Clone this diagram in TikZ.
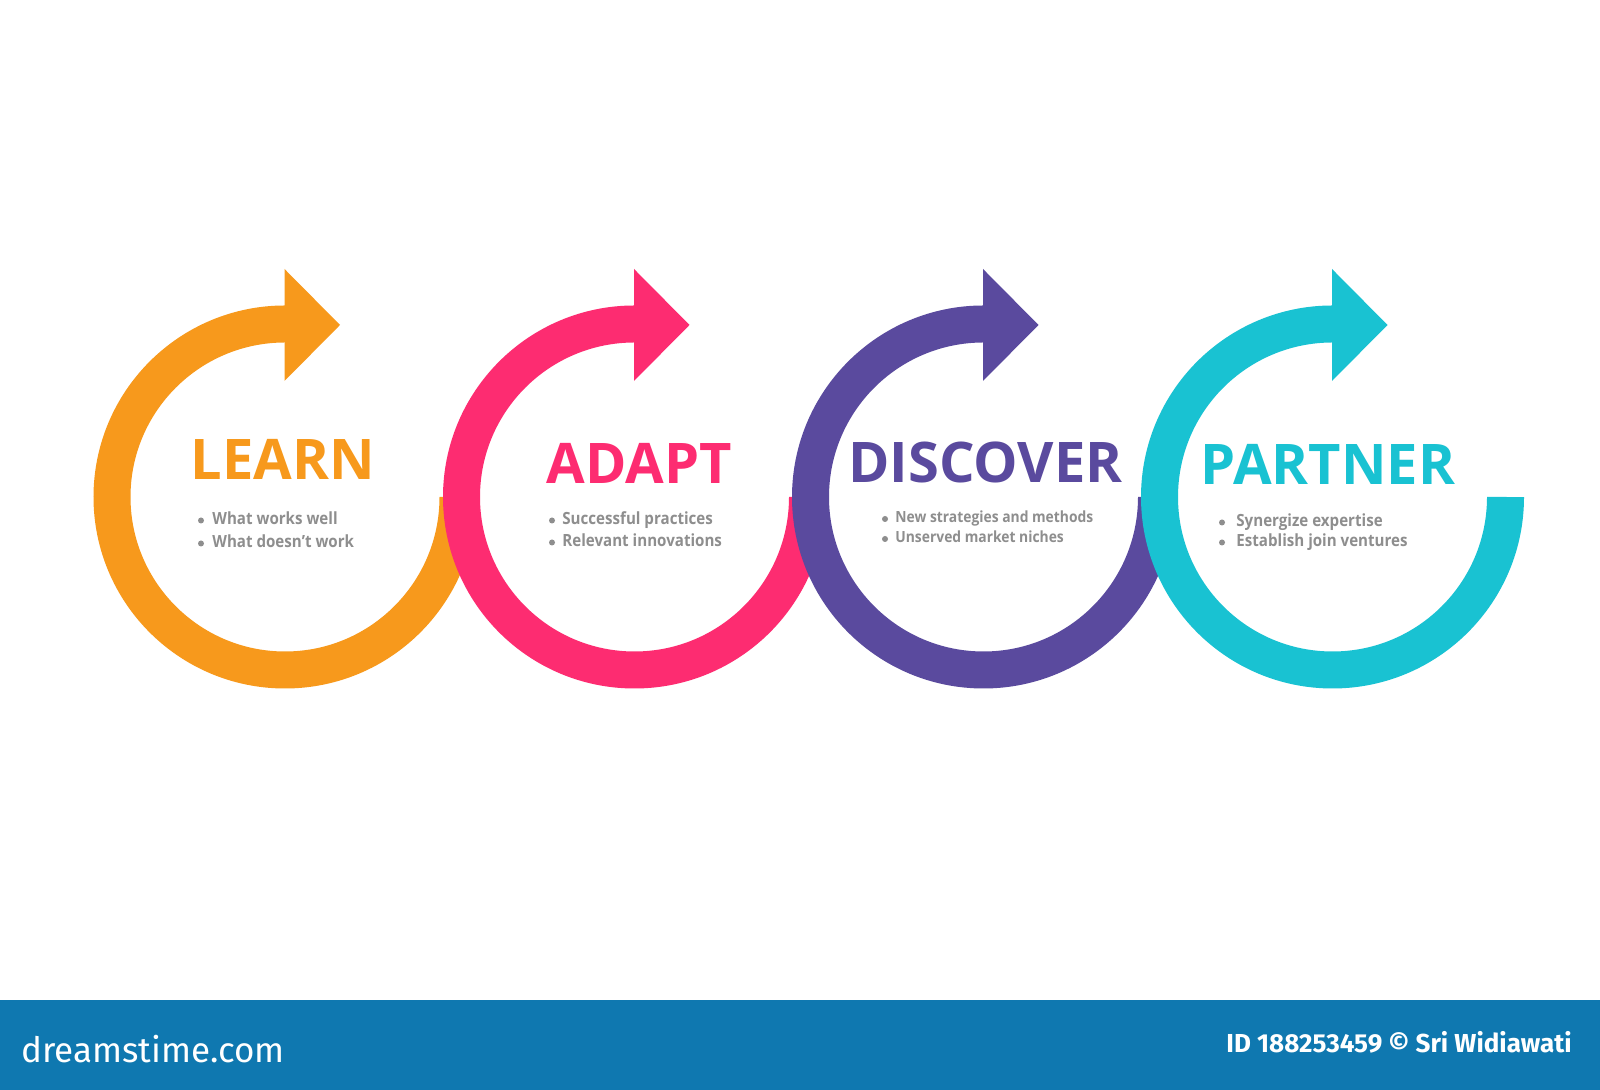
\documentclass[tikz,border=0pt]{standalone}
\usepackage{fontspec}
\setmainfont{Open Sans}
\newfontfamily\notefont[FakeStretch=0.9]{Open Sans}
\newfontfamily\barfont{Fira Sans}
\usetikzlibrary{positioning}

\definecolor{learncol}{HTML}{F7991C}
\definecolor{adaptcol}{HTML}{FD2C71}
\definecolor{discovercol}{HTML}{5A4A9E}
\definecolor{partnercol}{HTML}{19C2D2}
\definecolor{notegray}{HTML}{8E8E8E}
\definecolor{barblue}{HTML}{0F78B0}

\tikzset{
	ring/.style={line width=18.5pt},
	title/.style={font=\fontsize{28}{30}\selectfont\bfseries, anchor=base, inner sep=0pt},
	note/.style={font=\notefont\fontsize{8.4}{10}\selectfont\bfseries, text=notegray, anchor=base west, inner sep=0pt},
	small note/.style={note, font=\notefont\fontsize{7.7}{9}\selectfont\bfseries},
	dot/.style={circle, fill=notegray, inner sep=0pt, minimum size=3pt},
}

\begin{document}
\begin{tikzpicture}[x=0.5pt, y=0.5pt]
		\useasboundingbox (0,0) rectangle (1600,1090);
		\fill[white] (0,0) rectangle (1600,1090);
		% rings, each one laid over the one before
		\foreach \cx/\col in {285/learncol, 634.5/adaptcol, 983.5/discovercol, 1332.5/partnercol} {
			\draw[ring, \col] (\cx+173,593) arc[start angle=0, end angle=-270, radius=173];
			\fill[\col] (\cx-0.5,821) -- (\cx+55,765) -- (\cx-0.5,709) -- cycle;
		}
		% titles
		\node[title, text=learncol] (learn) at (282.5,610) {LEARN};
		\node[title, text=adaptcol] (adapt) at (639.5,606) {ADAPT};
		\node[title, text=discovercol] (discover) at (985.5,607) {DISCOVER};
		\node[title, text=partnercol] (partner) at (1328,605) {PARTNER};
		% bullet lines
		\node[note] (learn1) at (212,565) {What works well};
		\node[note] (learn2) at (212,542) {What doesn’t work};
		\node[dot] (learnd1) at (201,569.5) {};
		\node[dot] (learnd2) at (201,546.5) {};
		\node[note] (adapt1) at (562,565) {Successful practices};
		\node[note] (adapt2) at (562,543) {Relevant innovations};
		\node[dot] (adaptd1) at (552,569.5) {};
		\node[dot] (adaptd2) at (552,547.5) {};
		\node[small note] (discover1) at (895,567) {New strategies and methods};
		\node[small note] (discover2) at (895,547) {Unserved market niches};
		\node[dot] (discoverd1) at (885,571) {};
		\node[dot] (discoverd2) at (885,551) {};
		\node[note] (partner1) at (1236,563) {Synergize expertise};
		\node[note] (partner2) at (1236,543) {Establish join ventures};
		\node[dot] (partnerd1) at (1222,567.5) {};
		\node[dot] (partnerd2) at (1222,547.5) {};
		% bottom bar
		\fill[barblue] (0,0) rectangle (1600,90);
		\node[font=\barfont\fontsize{17.5}{20}\selectfont, text=white, anchor=base west, inner sep=0pt] (site) at (21,27) {dreamstime.com};
		\node[font=\barfont\bfseries\fontsize{13}{15}\selectfont, text=white, anchor=base east, inner sep=0pt] (credit) at (1572,37) {ID 188253459 © Sri Widiawati};
\end{tikzpicture}
\end{document}
